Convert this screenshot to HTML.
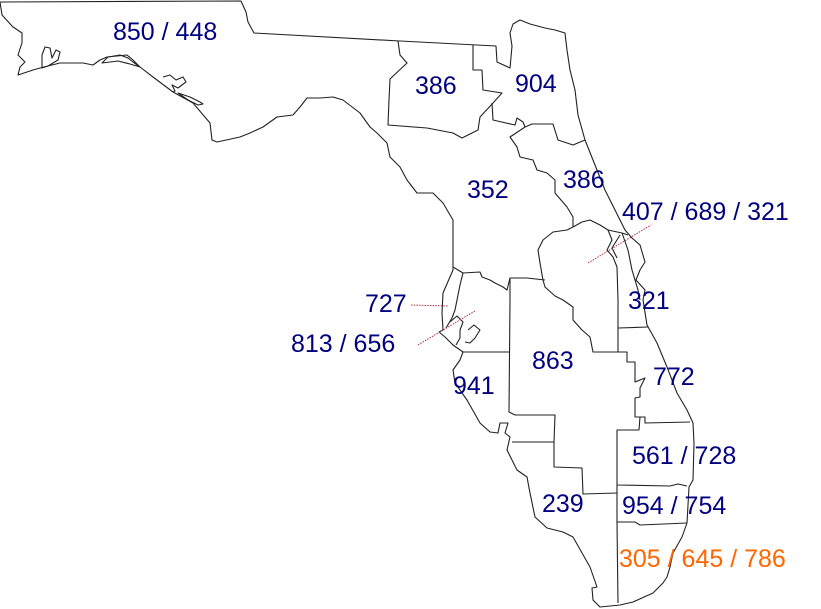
<!DOCTYPE html>
<html><head><meta charset="utf-8"><style>
html,body{margin:0;padding:0;background:#fff;}
svg{display:block;}
text{font-family:"Liberation Sans",Arial,sans-serif;font-size:25px;fill:#000080;}
</style></head><body>
<svg width="821" height="609" viewBox="0 0 821 609" xmlns="http://www.w3.org/2000/svg">
<g fill="none" stroke="#222" stroke-width="1.1" stroke-linejoin="round">
<path d="M0,2 L241,1 L246,12 L248,22 L254,33 L400,41 L496,46 L497,62 L510,68 L512,46 L510,33 L513,24 L520,20 L530,24 L545,28 L555,30 L565,33 L567,50 L570,70 L575,90 L578,115 L585,140 L595,165 L605,190 L615,210 L625,230 L632,238 L640,245 L645,262 L640,270 L636,280 L645,290 L643,300 L647,325 L657,343 L667,367 L677,393 L687,410 L693,423 L694,443 L693,480 L689,487 L687,523 L682,537 L673,553 L670,567 L667,577 L663,583 L653,593 L633,602 L620,605 L600,607 L593,600 L592,588 L597,587 L590,567 L573,537 L563,532 L547,528 L535,517 L530,493 L527,477 L517,470 L507,450 L510,437 L505,433 L508,423 L500,423 L498,433 L490,432 L480,423 L467,400 L455,383 L453,370 L460,360 L463,352 L453,345 L445,337 L439,332 L443,330 L442,313 L443,293 L453,270 L453,267 L453,220 L443,203 L433,193 L417,193 L407,180 L400,167 L390,157 L387,143 L377,133 L370,127 L360,113 L343,100 L333,97 L320,98 L307,98 L300,107 L293,115 L277,117 L263,127 L250,133 L240,137 L217,142 L212,140 L210,123 L193,103 L173,92 L153,77 L140,67 L133,60 L127,55 L107,57 L100,60 L93,65 L83,63 L60,63 L40,68 L33,70 L18,75 L20,67 L25,62 L18,55 L22,43 L22,33 L13,27 L2,15 Z"/>
<path d="M42,68 L42,55 L45,47 L50,48 L52,58 L56,50 L60,52 L58,60 L48,66 Z"/>
<path d="M102,63 L108,57 L120,55 L128,58 L133,62 L140,67 L130,64 L118,61 Z"/>
<path d="M163,77 L170,75 L176,80 L183,77 L186,82 L178,88 L172,85 L175,91 L173,92"/>
<path d="M178,93 L190,97 L200,102 L203,104 L198,105 L188,100 Z"/>
<path d="M398,41 L400,55 L407,63 L390,79 L389,100 L388,125 L427,128 L453,133 L462,138 L478,130 L480,117 L493,103 L502,93 L483,90 L482,70 L473,70 L473,45"/>
<path d="M492,103 L493,120 L515,125 L517,118 L523,122 L525,127 L532,124 L553,124 L558,140 L573,145 L585,140"/>
<path d="M525,127 L510,137 L517,147 L520,157 L533,160 L537,170 L547,173 L555,180 L555,193 L567,207 L573,217 L573,227 L582,222 L590,220 L600,225 L608,230 L622,233 L628,235"/>
<path d="M573,227 L567,230 L553,232 L543,240 L538,250 L540,263 L543,280 L545,287 L555,296 L563,300 L573,307 L573,320 L582,330 L590,337 L593,352 L618,352"/>
<path d="M608,230 L612,240 L607,250 L613,257 L617,267 L618,300 L618,352 L627,352 L627,362 L635,362 L635,382 L645,378 L640,388 L640,397 L635,398 L635,417 L645,417 L645,423 L690,422"/>
<path d="M618,328 L648,327"/>
<path d="M622,233 L628,250 L632,270 L638,290 L640,300"/>
<path d="M640,417 L639,430 L617,430 L617,485 L670,486 L678,484 L687,486"/>
<path d="M617,485 L617,522 L635,522 L640,525 L687,523"/>
<path d="M617,522 L618,603"/>
<path d="M453,267 L463,273 L480,272 L482,277 L490,280 L495,283 L503,287 L507,290 L510,278 L527,278 L545,280"/>
<path d="M510,278 L510,300 L509,412 L515,415 L555,415 L554,442 L512,442"/>
<path d="M554,442 L554,467 L582,468 L583,494 L617,493"/>
<path d="M463,352 L510,352"/>
<path d="M463,273 L460,285 L458,295 L455,310 L452,318 L446,328"/>
<path d="M450,322 L457,316 L463,322 L460,330 L460,338 L456,345"/>
<path d="M468,330 L474,325 L480,330 L475,338 L470,343 L465,342"/>
<path d="M620,235 L612,248 L617,258"/>
</g>
<g fill="none" stroke="#b03040" stroke-width="1" stroke-dasharray="1.5,1.2">
<path d="M588,263 L651,225"/>
<path d="M418,345 L475,311"/>
<path d="M411,305 L448,306"/>
</g>
<text x="113" y="40">850 / 448</text>
<text x="415" y="94">386</text>
<text x="515" y="92">904</text>
<text x="467" y="198">352</text>
<text x="563" y="188">386</text>
<text x="622" y="220">407 / 689 / 321</text>
<text x="628" y="309">321</text>
<text x="365" y="312">727</text>
<text x="291" y="352">813 / 656</text>
<text x="532" y="369">863</text>
<text x="653" y="385">772</text>
<text x="453" y="394">941</text>
<text x="632" y="464">561 / 728</text>
<text x="542" y="512">239</text>
<text x="622" y="514">954 / 754</text>
<text x="619" y="567" style="fill:#ff6600">305 / 645 / 786</text>
</svg>
</body></html>
